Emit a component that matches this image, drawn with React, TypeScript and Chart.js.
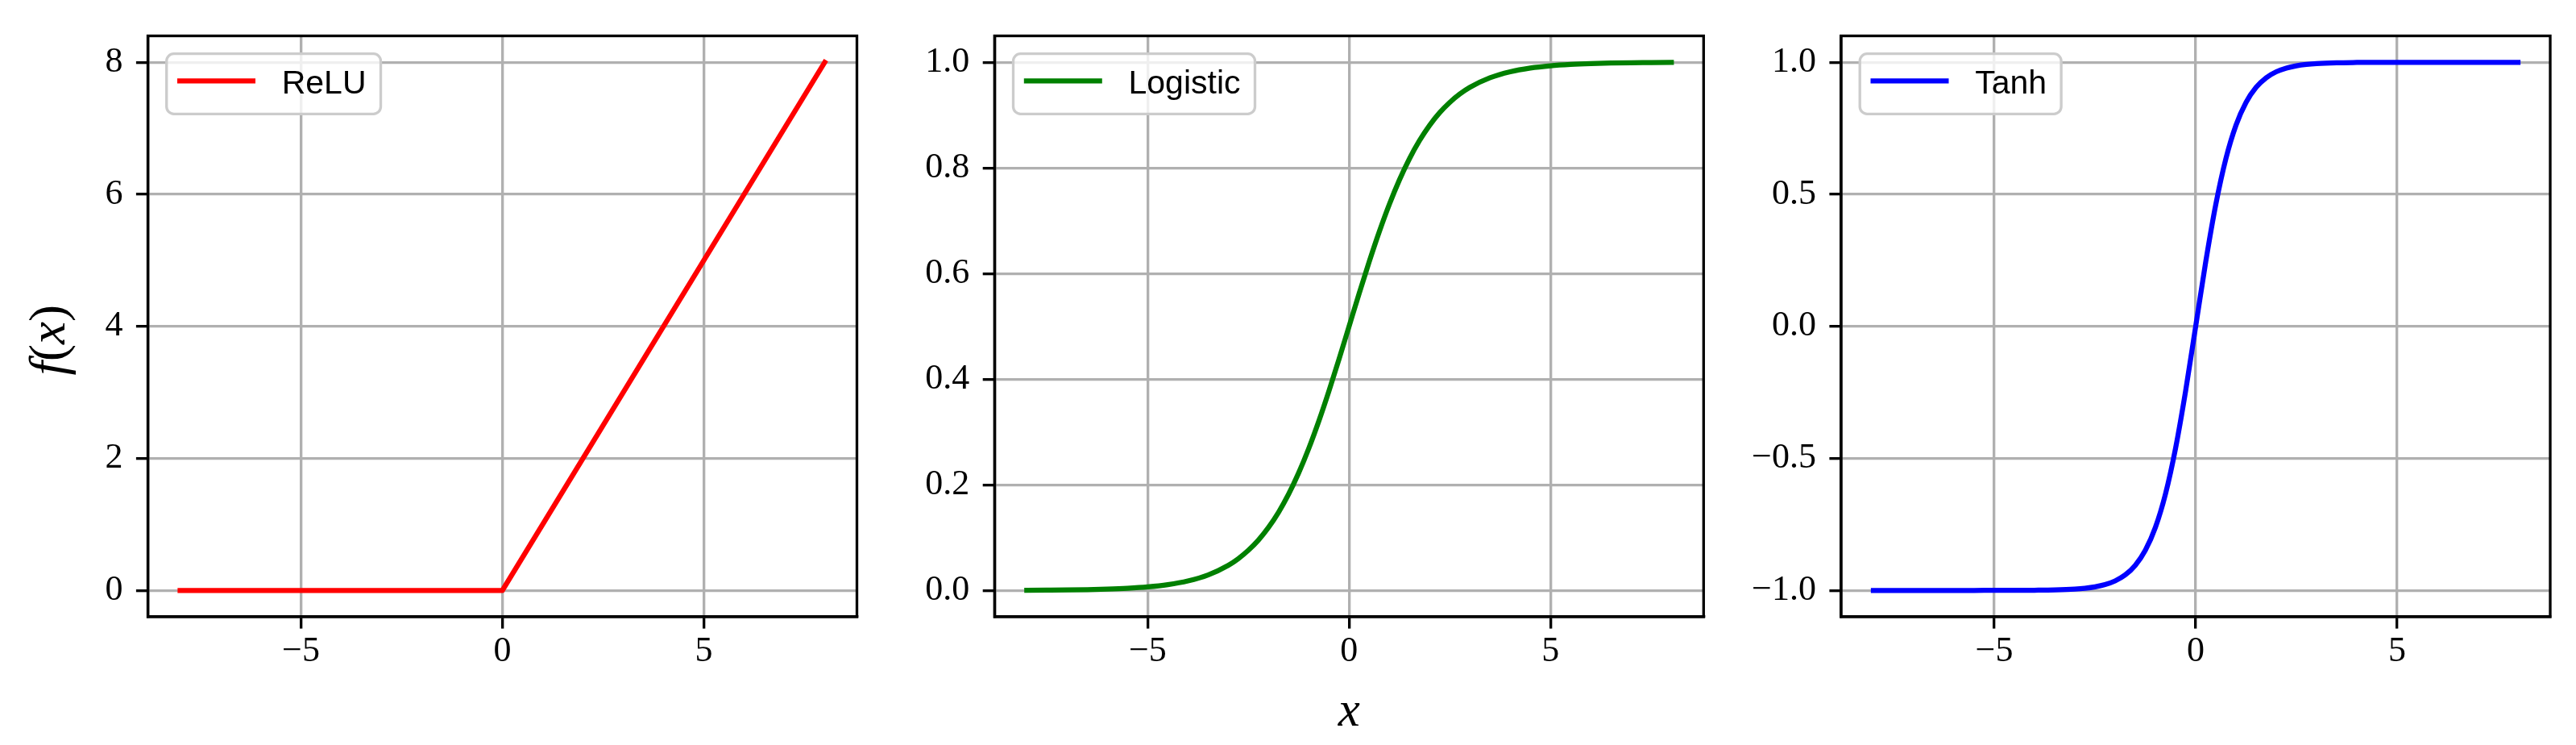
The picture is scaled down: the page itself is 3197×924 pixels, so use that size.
import React, { useEffect, useRef } from "react";
import { Chart, registerables } from "chart.js";

Chart.register(...registerables);

// ---------- data ----------
const X_GRID = [-8, -7.5, -7, -6.5, -6, -5.5, -5, -4.5, -4, -3.5, -3, -2.75, -2.5, -2.25, -2, -1.75, -1.5, -1.25, -1, -0.75, -0.5, -0.25, 0, 0.25, 0.5, 0.75, 1, 1.25, 1.5, 1.75, 2, 2.25, 2.5, 2.75, 3, 3.5, 4, 4.5, 5, 5.5, 6, 6.5, 7, 7.5, 8];
const RELU_X = [-8, 0, 8];
const RELU_Y = [0, 0, 8];
const LOGISTIC_Y = [0.0003, 0.0006, 0.0009, 0.0015, 0.0025, 0.0041, 0.0067, 0.011, 0.018, 0.0293, 0.0474, 0.0601, 0.0759, 0.0953, 0.1192, 0.148, 0.1824, 0.2227, 0.2689, 0.3208, 0.3775, 0.4378, 0.5, 0.5622, 0.6225, 0.6792, 0.7311, 0.7773, 0.8176, 0.852, 0.8808, 0.9047, 0.9241, 0.9399, 0.9526, 0.9707, 0.982, 0.989, 0.9933, 0.9959, 0.9975, 0.9985, 0.9991, 0.9994, 0.9997];
const TANH_Y = [-1, -1, -1, -1, -1, -1, -0.9999, -0.9998, -0.9993, -0.9982, -0.9951, -0.9919, -0.9866, -0.978, -0.964, -0.9414, -0.9051, -0.8483, -0.7616, -0.6351, -0.4621, -0.2449, 0, 0.2449, 0.4621, 0.6351, 0.7616, 0.8483, 0.9051, 0.9414, 0.964, 0.978, 0.9866, 0.9919, 0.9951, 0.9982, 0.9993, 0.9998, 0.9999, 1, 1, 1, 1, 1, 1];

const SERIES_LABELS = ["ReLU", "Logistic", "Tanh"];
const SERIES_COLORS = ["#ff0000", "#008000", "#0000ff"];

const X_TICKS = [-5, 0, 5];
const RELU_TICKS = [0, 2, 4, 6, 8];
const LOGISTIC_TICKS = [0, 0.2, 0.4, 0.6, 0.8, 1.0];
const TANH_TICKS = [-1, -0.5, 0, 0.5, 1];
const X_LIMITS = [-8.8, 8.8];
const RELU_LIMITS = [-0.4, 8.4];
const LOGISTIC_LIMITS = [-0.05, 1.05];
const TANH_LIMITS = [-1.1, 1.1];
const X_LABEL = "x";
const Y_LABEL_PARTS: [string, boolean][] = [["f", true], ["(", false], ["x", true], [")", false]];

// ---------- layout ----------
const W = 3197;
const H = 924;
const PANEL_LEFTS = [183.5, 1234.3, 2285];
const PANEL_W = 880;
const AREA_TOP = 44.5;
const AREA_BOTTOM = 765;
const Y_AXIS_W = 160;
const LW = 3.33;

const SERIF = '"Liberation Serif", "Times New Roman", serif';
const SANS = '"Liberation Sans", Arial, sans-serif';

const fmtNum = (v: number, dec: number) => {
  const s = Math.abs(v).toFixed(dec);
  return (v < -1e-9 ? "\u2212" : "") + s;
};

const framePlugin = {
  id: "frame",
  afterDatasetsDraw(chart: any) {
    const { ctx, chartArea: a } = chart;
    ctx.save();
    ctx.strokeStyle = "#000";
    ctx.lineWidth = LW;
    ctx.lineJoin = "miter";
    ctx.strokeRect(a.left, a.top, a.right - a.left, a.bottom - a.top);
    ctx.restore();
  },
};

const legendPlugin = {
  id: "boxLegend",
  afterDatasetsDraw(chart: any) {
    const { ctx, chartArea: a } = chart;
    const ds = chart.data.datasets[0];
    ctx.save();
    ctx.font = `41px ${SANS}`;
    const tw = ctx.measureText(ds.label).width;
    const bx = a.left + 23.2;
    const by = a.top + 22.2;
    const bw = 143 + tw + 18;
    const bh = 74.6;
    ctx.beginPath();
    (ctx as any).roundRect(bx, by, bw, bh, 9);
    ctx.fillStyle = "rgba(255,255,255,0.8)";
    ctx.fill();
    ctx.strokeStyle = "#cccccc";
    ctx.lineWidth = LW;
    ctx.stroke();
    ctx.beginPath();
    ctx.moveTo(bx + 13.3, by + 33.6);
    ctx.lineTo(bx + 110.3, by + 33.6);
    ctx.strokeStyle = ds.borderColor;
    ctx.lineWidth = 6.25;
    ctx.lineCap = "butt";
    ctx.stroke();
    ctx.fillStyle = "#000";
    ctx.textBaseline = "alphabetic";
    ctx.textAlign = "left";
    ctx.fillText(ds.label, bx + 143, by + 49.3);
    ctx.restore();
  },
};

const xLabelPlugin = {
  id: "xLabel",
  afterDraw(chart: any) {
    const { ctx, chartArea: a } = chart;
    ctx.save();
    ctx.font = `italic 61px ${SERIF}`;
    ctx.fillStyle = "#000";
    ctx.textAlign = "center";
    ctx.textBaseline = "alphabetic";
    ctx.fillText(X_LABEL, (a.left + a.right) / 2, a.bottom + 135);
    ctx.restore();
  },
};

const yLabelPlugin = {
  id: "yLabel",
  afterDraw(chart: any) {
    const { ctx, chartArea: a } = chart;
    ctx.save();
    const fontFor = (it: boolean) => `${it ? "italic " : ""}63px ${SERIF}`;
    let total = 0;
    const widths = Y_LABEL_PARTS.map(([t, it]) => {
      ctx.font = fontFor(it);
      const w = ctx.measureText(t).width;
      total += w;
      return w;
    });
    ctx.translate(80, (a.top + a.bottom) / 2 + 17);
    ctx.rotate(-Math.PI / 2);
    ctx.fillStyle = "#000";
    ctx.textAlign = "left";
    ctx.textBaseline = "alphabetic";
    let x = -total / 2;
    Y_LABEL_PARTS.forEach(([t, it], i) => {
      ctx.font = fontFor(it);
      ctx.fillText(t, x, 0);
      x += widths[i];
    });
    ctx.restore();
  },
};

function makeConfig(i: number) {
  const left = PANEL_LEFTS[i];
  const ySpec = [
    { lim: RELU_LIMITS, ticks: RELU_TICKS, dec: 0 },
    { lim: LOGISTIC_LIMITS, ticks: LOGISTIC_TICKS, dec: 1 },
    { lim: TANH_LIMITS, ticks: TANH_TICKS, dec: 1 },
  ][i];
  const xs = i === 0 ? RELU_X : X_GRID;
  const ys = i === 0 ? RELU_Y : i === 1 ? LOGISTIC_Y : TANH_Y;
  const data = xs.map((x, k) => ({ x, y: ys[k] }));
  const gridOpts = {
    color: "#b0b0b0",
    lineWidth: LW,
    tickColor: "#000",
    tickWidth: LW,
    tickLength: 14.6,
    drawTicks: true,
    drawOnChartArea: true,
  };
  const tickFont = { family: SERIF, size: 44, lineHeight: 1.2 };
  const plugins: any[] = [framePlugin, legendPlugin];
  if (i === 0) plugins.push(yLabelPlugin);
  if (i === 1) plugins.push(xLabelPlugin);
  return {
    type: "line" as const,
    data: {
      datasets: [
        {
          label: SERIES_LABELS[i],
          data,
          borderColor: SERIES_COLORS[i],
          backgroundColor: SERIES_COLORS[i],
          borderWidth: 6.25,
          borderCapStyle: "square",
          borderJoinStyle: "round",
          pointRadius: 0,
          pointHoverRadius: 0,
          fill: false,
          tension: i === 0 ? 0 : 0.4,
          cubicInterpolationMode: i === 0 ? "default" : "monotone",
        },
      ],
    },
    options: {
      responsive: false,
      animation: false,
      devicePixelRatio: 1,
      events: [],
      layout: {
        padding: {
          left: left - Y_AXIS_W,
          right: W - (left + PANEL_W),
          top: AREA_TOP,
          bottom: 0,
        },
      },
      scales: {
        x: {
          type: "linear",
          min: X_LIMITS[0],
          max: X_LIMITS[1],
          afterBuildTicks: (s: any) => {
            s.ticks = X_TICKS.map((v) => ({ value: v }));
          },
          afterFit: (s: any) => {
            s.height = H - AREA_BOTTOM;
          },
          grid: gridOpts,
          border: { display: true, color: "#000", width: LW },
          ticks: {
            color: "#000",
            font: tickFont,
            padding: 2.5,
            autoSkip: false,
            maxRotation: 0,
            callback: (v: any) => fmtNum(Number(v), 0),
          },
        },
        y: {
          type: "linear",
          min: ySpec.lim[0],
          max: ySpec.lim[1],
          afterBuildTicks: (s: any) => {
            s.ticks = ySpec.ticks.map((v) => ({ value: v }));
          },
          afterFit: (s: any) => {
            s.width = Y_AXIS_W;
          },
          grid: gridOpts,
          border: { display: true, color: "#000", width: LW },
          ticks: {
            color: "#000",
            font: tickFont,
            padding: 16.5,
            autoSkip: false,
            callback: (v: any) => fmtNum(Number(v), ySpec.dec),
          },
        },
      },
      plugins: {
        legend: { display: false },
        tooltip: { enabled: false },
        title: { display: false },
      },
    },
    plugins,
  };
}

export default function App() {
  const r0 = useRef<HTMLCanvasElement>(null);
  const r1 = useRef<HTMLCanvasElement>(null);
  const r2 = useRef<HTMLCanvasElement>(null);
  const refs = [r0, r1, r2];
  useEffect(() => {
    const charts = refs.map((r, i) => new Chart(r.current as HTMLCanvasElement, makeConfig(i) as any));
    return () => charts.forEach((c) => c.destroy());
  }, []);
  return (
    <div style={{ position: "absolute", left: 0, top: 0, width: W, height: H, background: "#fff" }}>
      {refs.map((r, i) => (
        <canvas
          key={i}
          ref={r}
          width={W}
          height={H}
          style={{ position: "absolute", left: 0, top: 0, width: W, height: H }}
        />
      ))}
    </div>
  );
}
